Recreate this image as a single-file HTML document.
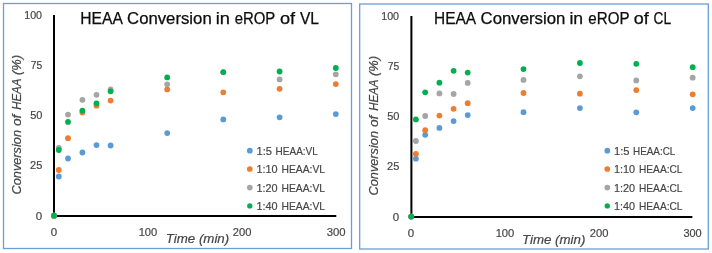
<!DOCTYPE html>
<html><head><meta charset="utf-8"><style>
html,body{margin:0;padding:0;background:#fff;width:712px;height:253px;overflow:hidden}
svg{display:block;will-change:transform;font-family:"Liberation Sans",sans-serif}
</style></head><body>
<svg width="712" height="253" viewBox="0 0 712 253">
<rect width="712" height="253" fill="#fff"/>
<rect x="3.5" y="3.5" width="348" height="245" fill="#fff" stroke="#6C9ED3" stroke-width="1.3"/>
<text x="80.32" y="24.20" font-size="15.6" fill="#0d0d0d" textLength="42.61" lengthAdjust="spacingAndGlyphs" stroke="#0d0d0d" stroke-width="0.25">HEAA</text>
<text x="127.05" y="24.20" font-size="15.6" fill="#0d0d0d" textLength="84.64" lengthAdjust="spacingAndGlyphs" stroke="#0d0d0d" stroke-width="0.25">Conversion</text>
<text x="215.68" y="24.20" font-size="15.6" fill="#0d0d0d" textLength="14.21" lengthAdjust="spacingAndGlyphs" stroke="#0d0d0d" stroke-width="0.25">in</text>
<text x="234.67" y="24.20" font-size="15.6" fill="#0d0d0d" textLength="40.62" lengthAdjust="spacingAndGlyphs" stroke="#0d0d0d" stroke-width="0.25">eROP</text>
<text x="279.94" y="24.20" font-size="15.6" fill="#0d0d0d" textLength="15.14" lengthAdjust="spacingAndGlyphs" stroke="#0d0d0d" stroke-width="0.25">of</text>
<text x="300.03" y="24.20" font-size="15.6" fill="#0d0d0d" textLength="18.98" lengthAdjust="spacingAndGlyphs" stroke="#0d0d0d" stroke-width="0.25">VL</text>
<text x="24.19" y="19.00" font-size="11.5" fill="#464646" textLength="17.83" lengthAdjust="spacingAndGlyphs" stroke="#464646" stroke-width="0.2">100</text>
<text x="30.77" y="69.12" font-size="11.5" fill="#464646" textLength="11.46" lengthAdjust="spacingAndGlyphs" stroke="#464646" stroke-width="0.2">75</text>
<text x="30.16" y="119.25" font-size="11.5" fill="#464646" textLength="12.27" lengthAdjust="spacingAndGlyphs" stroke="#464646" stroke-width="0.2">50</text>
<text x="30.04" y="169.38" font-size="11.5" fill="#464646" textLength="12.32" lengthAdjust="spacingAndGlyphs" stroke="#464646" stroke-width="0.2">25</text>
<text x="35.75" y="219.50" font-size="11.5" fill="#464646" textLength="6.40" lengthAdjust="spacingAndGlyphs" stroke="#464646" stroke-width="0.2">0</text>
<text x="50.75" y="235.80" font-size="11.5" fill="#464646" textLength="6.40" lengthAdjust="spacingAndGlyphs" stroke="#464646" stroke-width="0.2">0</text>
<text x="138.65" y="235.80" font-size="11.5" fill="#464646" textLength="18.58" lengthAdjust="spacingAndGlyphs" stroke="#464646" stroke-width="0.2">100</text>
<text x="232.84" y="235.80" font-size="11.5" fill="#464646" textLength="18.60" lengthAdjust="spacingAndGlyphs" stroke="#464646" stroke-width="0.2">200</text>
<text x="326.77" y="235.80" font-size="11.5" fill="#464646" textLength="18.87" lengthAdjust="spacingAndGlyphs" stroke="#464646" stroke-width="0.2">300</text>
<text x="165.81" y="243.20" font-size="12.3" font-style="italic" fill="#464646" textLength="63.38" lengthAdjust="spacingAndGlyphs" stroke="#464646" stroke-width="0.2">Time (min)</text>
<g transform="translate(20.9,0) rotate(-90)"><text x="-194.50" y="0.00" font-size="12.3" font-style="italic" fill="#464646" textLength="64.48" lengthAdjust="spacingAndGlyphs" stroke="#464646" stroke-width="0.2">Conversion</text><text x="-126.05" y="0.00" font-size="12.3" font-style="italic" fill="#464646" textLength="11.46" lengthAdjust="spacingAndGlyphs" stroke="#464646" stroke-width="0.2">of</text><text x="-109.85" y="0.00" font-size="12.3" font-style="italic" fill="#464646" textLength="31.27" lengthAdjust="spacingAndGlyphs" stroke="#464646" stroke-width="0.2">HEAA</text><text x="-75.01" y="0.00" font-size="12.3" font-style="italic" fill="#464646" textLength="20.07" lengthAdjust="spacingAndGlyphs" stroke="#464646" stroke-width="0.2">(%)</text></g>
<rect x="53" y="15" width="2" height="202" fill="#000"/>
<rect x="53" y="215" width="283.30" height="2" fill="#000"/>
<circle cx="249.8" cy="150.70" r="2.85" fill="#5B9BD5"/>
<text x="256.45" y="154.90" font-size="11.6" fill="#464646" textLength="15.52" lengthAdjust="spacingAndGlyphs" stroke="#464646" stroke-width="0.2">1:5</text>
<text x="275.58" y="154.90" font-size="11.6" fill="#464646" textLength="42.25" lengthAdjust="spacingAndGlyphs" stroke="#464646" stroke-width="0.2">HEAA:VL</text>
<circle cx="249.8" cy="169.00" r="2.85" fill="#ED7D31"/>
<text x="256.47" y="173.20" font-size="11.6" fill="#464646" textLength="21.15" lengthAdjust="spacingAndGlyphs" stroke="#464646" stroke-width="0.2">1:10</text>
<text x="281.45" y="173.20" font-size="11.6" fill="#464646" textLength="43.59" lengthAdjust="spacingAndGlyphs" stroke="#464646" stroke-width="0.2">HEAA:VL</text>
<circle cx="249.8" cy="187.60" r="2.85" fill="#A5A5A5"/>
<text x="256.47" y="191.80" font-size="11.6" fill="#464646" textLength="21.15" lengthAdjust="spacingAndGlyphs" stroke="#464646" stroke-width="0.2">1:20</text>
<text x="281.45" y="191.80" font-size="11.6" fill="#464646" textLength="43.59" lengthAdjust="spacingAndGlyphs" stroke="#464646" stroke-width="0.2">HEAA:VL</text>
<circle cx="249.8" cy="205.90" r="2.65" fill="#00B050"/>
<text x="256.47" y="209.80" font-size="11.6" fill="#464646" textLength="21.15" lengthAdjust="spacingAndGlyphs" stroke="#464646" stroke-width="0.2">1:40</text>
<text x="281.45" y="209.80" font-size="11.6" fill="#464646" textLength="43.59" lengthAdjust="spacingAndGlyphs" stroke="#464646" stroke-width="0.2">HEAA:VL</text>
<circle cx="54" cy="215.7" r="2.9" fill="#5B9BD5"/>
<circle cx="58.8" cy="176.5" r="2.9" fill="#5B9BD5"/>
<circle cx="68.0" cy="158.5" r="2.9" fill="#5B9BD5"/>
<circle cx="82.4" cy="152.5" r="2.9" fill="#5B9BD5"/>
<circle cx="96.5" cy="145.1" r="2.9" fill="#5B9BD5"/>
<circle cx="110.6" cy="145.5" r="2.9" fill="#5B9BD5"/>
<circle cx="167.2" cy="133.1" r="2.9" fill="#5B9BD5"/>
<circle cx="223.3" cy="119.4" r="2.9" fill="#5B9BD5"/>
<circle cx="279.6" cy="117.3" r="2.9" fill="#5B9BD5"/>
<circle cx="335.8" cy="114.1" r="2.9" fill="#5B9BD5"/>
<circle cx="54" cy="215.7" r="2.9" fill="#ED7D31"/>
<circle cx="58.8" cy="170.0" r="2.9" fill="#ED7D31"/>
<circle cx="68.0" cy="138.2" r="2.9" fill="#ED7D31"/>
<circle cx="82.4" cy="112.6" r="2.9" fill="#ED7D31"/>
<circle cx="96.5" cy="105.7" r="2.9" fill="#ED7D31"/>
<circle cx="110.6" cy="100.6" r="2.9" fill="#ED7D31"/>
<circle cx="167.2" cy="89.4" r="2.9" fill="#ED7D31"/>
<circle cx="223.3" cy="92.3" r="2.9" fill="#ED7D31"/>
<circle cx="279.6" cy="88.8" r="2.9" fill="#ED7D31"/>
<circle cx="335.8" cy="84.1" r="2.9" fill="#ED7D31"/>
<circle cx="54" cy="215.7" r="2.9" fill="#A5A5A5"/>
<circle cx="58.8" cy="148" r="2.9" fill="#A5A5A5"/>
<circle cx="68.0" cy="114.6" r="2.9" fill="#A5A5A5"/>
<circle cx="82.4" cy="99.8" r="2.9" fill="#A5A5A5"/>
<circle cx="96.5" cy="94.8" r="2.9" fill="#A5A5A5"/>
<circle cx="110.6" cy="89.5" r="2.9" fill="#A5A5A5"/>
<circle cx="167.2" cy="84.3" r="2.9" fill="#A5A5A5"/>
<circle cx="223.3" cy="72.3" r="2.9" fill="#A5A5A5"/>
<circle cx="279.6" cy="79.4" r="2.9" fill="#A5A5A5"/>
<circle cx="335.8" cy="74.3" r="2.9" fill="#A5A5A5"/>
<circle cx="54" cy="215.7" r="2.9" fill="#00B050"/>
<circle cx="58.8" cy="150" r="2.9" fill="#00B050"/>
<circle cx="68.0" cy="121.9" r="2.9" fill="#00B050"/>
<circle cx="82.4" cy="110.6" r="2.9" fill="#00B050"/>
<circle cx="96.5" cy="103.3" r="2.9" fill="#00B050"/>
<circle cx="110.6" cy="91.3" r="2.9" fill="#00B050"/>
<circle cx="167.2" cy="77.4" r="2.9" fill="#00B050"/>
<circle cx="223.3" cy="72.1" r="2.9" fill="#00B050"/>
<circle cx="279.6" cy="71.5" r="2.9" fill="#00B050"/>
<circle cx="335.8" cy="68" r="2.9" fill="#00B050"/>
<rect x="359.7" y="4.0" width="348.6" height="245" fill="#fff" stroke="#6C9ED3" stroke-width="1.3"/>
<text x="434.03" y="24.20" font-size="15.6" fill="#0d0d0d" textLength="42.10" lengthAdjust="spacingAndGlyphs" stroke="#0d0d0d" stroke-width="0.25">HEAA</text>
<text x="480.55" y="24.20" font-size="15.6" fill="#0d0d0d" textLength="84.84" lengthAdjust="spacingAndGlyphs" stroke="#0d0d0d" stroke-width="0.25">Conversion</text>
<text x="569.42" y="24.20" font-size="15.6" fill="#0d0d0d" textLength="13.72" lengthAdjust="spacingAndGlyphs" stroke="#0d0d0d" stroke-width="0.25">in</text>
<text x="588.36" y="24.20" font-size="15.6" fill="#0d0d0d" textLength="41.14" lengthAdjust="spacingAndGlyphs" stroke="#0d0d0d" stroke-width="0.25">eROP</text>
<text x="633.74" y="24.20" font-size="15.6" fill="#0d0d0d" textLength="15.03" lengthAdjust="spacingAndGlyphs" stroke="#0d0d0d" stroke-width="0.25">of</text>
<text x="653.60" y="24.20" font-size="15.6" fill="#0d0d0d" textLength="17.55" lengthAdjust="spacingAndGlyphs" stroke="#0d0d0d" stroke-width="0.25">CL</text>
<text x="381.19" y="20.00" font-size="11.5" fill="#464646" textLength="17.83" lengthAdjust="spacingAndGlyphs" stroke="#464646" stroke-width="0.2">100</text>
<text x="387.77" y="70.12" font-size="11.5" fill="#464646" textLength="11.46" lengthAdjust="spacingAndGlyphs" stroke="#464646" stroke-width="0.2">75</text>
<text x="387.16" y="120.25" font-size="11.5" fill="#464646" textLength="12.27" lengthAdjust="spacingAndGlyphs" stroke="#464646" stroke-width="0.2">50</text>
<text x="387.04" y="170.38" font-size="11.5" fill="#464646" textLength="12.32" lengthAdjust="spacingAndGlyphs" stroke="#464646" stroke-width="0.2">25</text>
<text x="392.75" y="220.50" font-size="11.5" fill="#464646" textLength="6.40" lengthAdjust="spacingAndGlyphs" stroke="#464646" stroke-width="0.2">0</text>
<text x="407.75" y="236.80" font-size="11.5" fill="#464646" textLength="6.40" lengthAdjust="spacingAndGlyphs" stroke="#464646" stroke-width="0.2">0</text>
<text x="495.65" y="236.80" font-size="11.5" fill="#464646" textLength="18.58" lengthAdjust="spacingAndGlyphs" stroke="#464646" stroke-width="0.2">100</text>
<text x="589.84" y="236.80" font-size="11.5" fill="#464646" textLength="18.60" lengthAdjust="spacingAndGlyphs" stroke="#464646" stroke-width="0.2">200</text>
<text x="683.38" y="236.80" font-size="11.5" fill="#464646" textLength="18.35" lengthAdjust="spacingAndGlyphs" stroke="#464646" stroke-width="0.2">300</text>
<text x="522.01" y="244.20" font-size="12.3" font-style="italic" fill="#464646" textLength="63.38" lengthAdjust="spacingAndGlyphs" stroke="#464646" stroke-width="0.2">Time (min)</text>
<g transform="translate(377.9,0) rotate(-90)"><text x="-195.50" y="0.00" font-size="12.3" font-style="italic" fill="#464646" textLength="64.48" lengthAdjust="spacingAndGlyphs" stroke="#464646" stroke-width="0.2">Conversion</text><text x="-127.05" y="0.00" font-size="12.3" font-style="italic" fill="#464646" textLength="11.46" lengthAdjust="spacingAndGlyphs" stroke="#464646" stroke-width="0.2">of</text><text x="-110.85" y="0.00" font-size="12.3" font-style="italic" fill="#464646" textLength="31.27" lengthAdjust="spacingAndGlyphs" stroke="#464646" stroke-width="0.2">HEAA</text><text x="-76.01" y="0.00" font-size="12.3" font-style="italic" fill="#464646" textLength="20.07" lengthAdjust="spacingAndGlyphs" stroke="#464646" stroke-width="0.2">(%)</text></g>
<rect x="410.4" y="16" width="2" height="202" fill="#000"/>
<rect x="410.4" y="216" width="282.00" height="2" fill="#000"/>
<circle cx="607.3" cy="150.70" r="2.85" fill="#5B9BD5"/>
<text x="613.95" y="154.90" font-size="11.6" fill="#464646" textLength="15.52" lengthAdjust="spacingAndGlyphs" stroke="#464646" stroke-width="0.2">1:5</text>
<text x="633.09" y="154.90" font-size="11.6" fill="#464646" textLength="42.24" lengthAdjust="spacingAndGlyphs" stroke="#464646" stroke-width="0.2">HEAA:CL</text>
<circle cx="607.3" cy="169.00" r="2.85" fill="#ED7D31"/>
<text x="613.97" y="173.20" font-size="11.6" fill="#464646" textLength="21.15" lengthAdjust="spacingAndGlyphs" stroke="#464646" stroke-width="0.2">1:10</text>
<text x="638.96" y="173.20" font-size="11.6" fill="#464646" textLength="43.57" lengthAdjust="spacingAndGlyphs" stroke="#464646" stroke-width="0.2">HEAA:CL</text>
<circle cx="607.3" cy="187.60" r="2.85" fill="#A5A5A5"/>
<text x="613.97" y="191.80" font-size="11.6" fill="#464646" textLength="21.15" lengthAdjust="spacingAndGlyphs" stroke="#464646" stroke-width="0.2">1:20</text>
<text x="638.96" y="191.80" font-size="11.6" fill="#464646" textLength="43.57" lengthAdjust="spacingAndGlyphs" stroke="#464646" stroke-width="0.2">HEAA:CL</text>
<circle cx="607.3" cy="205.90" r="2.65" fill="#00B050"/>
<text x="613.97" y="209.80" font-size="11.6" fill="#464646" textLength="21.15" lengthAdjust="spacingAndGlyphs" stroke="#464646" stroke-width="0.2">1:40</text>
<text x="638.96" y="209.80" font-size="11.6" fill="#464646" textLength="43.57" lengthAdjust="spacingAndGlyphs" stroke="#464646" stroke-width="0.2">HEAA:CL</text>
<circle cx="411.2" cy="216.6" r="2.9" fill="#5B9BD5"/>
<circle cx="415.9" cy="158.7" r="2.9" fill="#5B9BD5"/>
<circle cx="425.2" cy="134.8" r="2.9" fill="#5B9BD5"/>
<circle cx="439.4" cy="127.9" r="2.9" fill="#5B9BD5"/>
<circle cx="453.6" cy="121.1" r="2.9" fill="#5B9BD5"/>
<circle cx="467.7" cy="115.1" r="2.9" fill="#5B9BD5"/>
<circle cx="523.5" cy="112.2" r="2.9" fill="#5B9BD5"/>
<circle cx="579.9" cy="108.1" r="2.9" fill="#5B9BD5"/>
<circle cx="636.3" cy="112.3" r="2.9" fill="#5B9BD5"/>
<circle cx="692.7" cy="108.1" r="2.9" fill="#5B9BD5"/>
<circle cx="411.2" cy="216.6" r="2.9" fill="#ED7D31"/>
<circle cx="415.9" cy="153.9" r="2.9" fill="#ED7D31"/>
<circle cx="425.2" cy="130.2" r="2.9" fill="#ED7D31"/>
<circle cx="439.4" cy="115.6" r="2.9" fill="#ED7D31"/>
<circle cx="453.6" cy="108.8" r="2.9" fill="#ED7D31"/>
<circle cx="467.7" cy="103.2" r="2.9" fill="#ED7D31"/>
<circle cx="523.5" cy="93" r="2.9" fill="#ED7D31"/>
<circle cx="579.9" cy="93.7" r="2.9" fill="#ED7D31"/>
<circle cx="636.3" cy="90.1" r="2.9" fill="#ED7D31"/>
<circle cx="692.7" cy="94.3" r="2.9" fill="#ED7D31"/>
<circle cx="411.2" cy="216.6" r="2.9" fill="#A5A5A5"/>
<circle cx="415.9" cy="141" r="2.9" fill="#A5A5A5"/>
<circle cx="425.2" cy="116" r="2.9" fill="#A5A5A5"/>
<circle cx="439.4" cy="93.4" r="2.9" fill="#A5A5A5"/>
<circle cx="453.6" cy="94" r="2.9" fill="#A5A5A5"/>
<circle cx="467.7" cy="82.9" r="2.9" fill="#A5A5A5"/>
<circle cx="523.5" cy="79.9" r="2.9" fill="#A5A5A5"/>
<circle cx="579.9" cy="76.3" r="2.9" fill="#A5A5A5"/>
<circle cx="636.3" cy="80.4" r="2.9" fill="#A5A5A5"/>
<circle cx="692.7" cy="77.7" r="2.9" fill="#A5A5A5"/>
<circle cx="411.2" cy="216.6" r="2.9" fill="#00B050"/>
<circle cx="415.9" cy="119.4" r="2.9" fill="#00B050"/>
<circle cx="425.2" cy="92.3" r="2.9" fill="#00B050"/>
<circle cx="439.4" cy="82.7" r="2.9" fill="#00B050"/>
<circle cx="453.6" cy="70.8" r="2.9" fill="#00B050"/>
<circle cx="467.7" cy="72.6" r="2.9" fill="#00B050"/>
<circle cx="523.5" cy="69.1" r="2.9" fill="#00B050"/>
<circle cx="579.9" cy="63" r="2.9" fill="#00B050"/>
<circle cx="636.3" cy="63.8" r="2.9" fill="#00B050"/>
<circle cx="692.7" cy="67.2" r="2.9" fill="#00B050"/>
</svg></body></html>
